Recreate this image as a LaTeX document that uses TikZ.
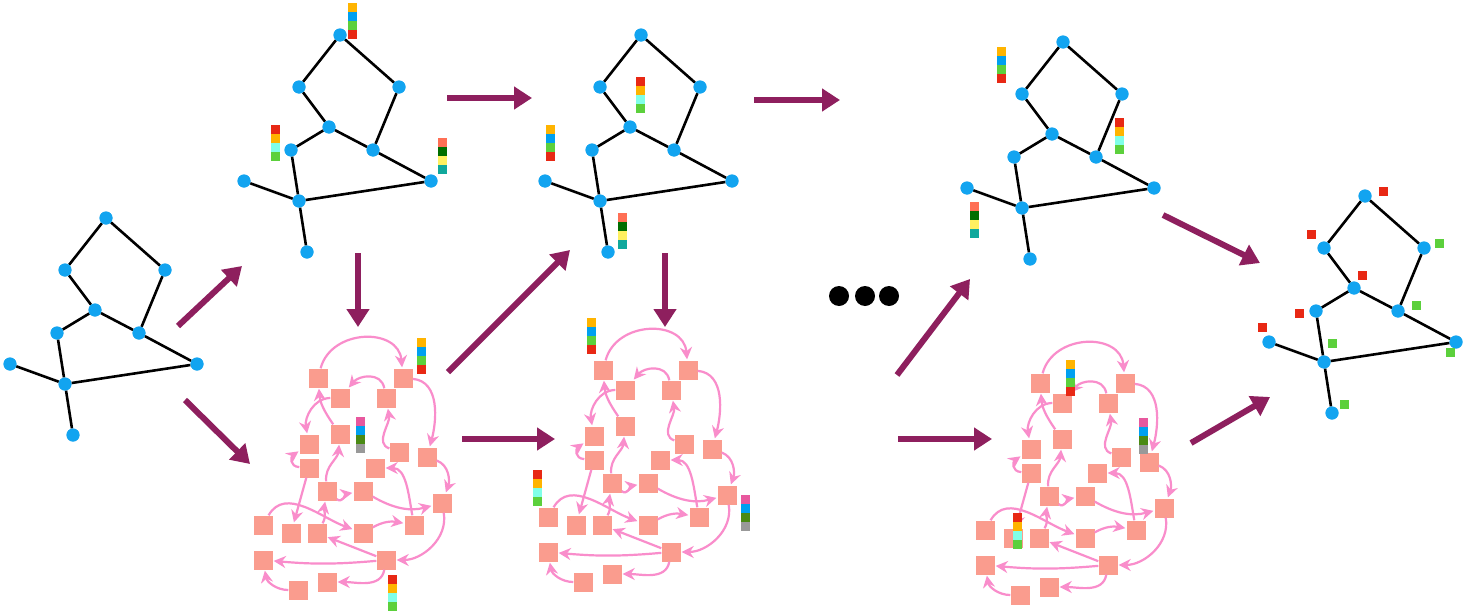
\documentclass[tikz,border=0pt]{standalone}
\usetikzlibrary{arrows.meta}
\definecolor{cOr}{HTML}{FFB400}
\definecolor{cBl}{HTML}{00A0F0}
\definecolor{cGr}{HTML}{5CD03C}
\definecolor{cRd}{HTML}{E82814}
\definecolor{cCy}{HTML}{80FFE8}
\definecolor{cSal}{HTML}{FF6F55}
\definecolor{cDg}{HTML}{006E00}
\definecolor{cYe}{HTML}{FFF060}
\definecolor{cTe}{HTML}{10A89C}
\definecolor{cPk}{HTML}{E8589E}
\definecolor{cOl}{HTML}{4A8A14}
\definecolor{cGy}{HTML}{999999}
\definecolor{vtx}{HTML}{12A4F0}
\definecolor{sq}{HTML}{FA9C8E}
\definecolor{pedge}{HTML}{F98DCB}
\definecolor{purp}{HTML}{8E1F5E}
\tikzset{
 vert/.style={circle,fill=vtx,inner sep=0pt,minimum size=13pt},
 gedge/.style={line width=2.6pt,black},
 sqn/.style={rectangle,fill=sq,inner sep=0pt,minimum size=19pt},
 pe/.style={line width=2.2pt,pedge,-{Stealth[length=12pt,width=12pt]},shorten >=1pt},
 bigarrow/.style={line width=6pt,purp,-{Triangle[length=18pt,width=22pt]}},
 cell/.style={inner sep=0pt,minimum size=9pt,anchor=north},
}
\newcommand{\mygraph}[3]{%
\begin{scope}[shift={(#2,#3)}]
\node[vert] (#1a) at (106,218) {};
\node[vert] (#1b) at (65,270) {};
\node[vert] (#1c) at (165,270) {};
\node[vert] (#1d) at (95,310) {};
\node[vert] (#1e) at (57,333) {};
\node[vert] (#1f) at (139,333) {};
\node[vert] (#1g) at (10,364) {};
\node[vert] (#1h) at (197,364) {};
\node[vert] (#1i) at (65,384) {};
\node[vert] (#1j) at (73,435) {};
\end{scope}
\draw[gedge] (#1a)--(#1b) (#1a)--(#1c) (#1b)--(#1d) (#1c)--(#1f) (#1d)--(#1e) (#1d)--(#1f) (#1f)--(#1h) (#1e)--(#1i) (#1g)--(#1i) (#1i)--(#1h) (#1i)--(#1j);
\node[vert] at (#1a) {};\node[vert] at (#1b) {};\node[vert] at (#1c) {};\node[vert] at (#1d) {};\node[vert] at (#1e) {};
\node[vert] at (#1f) {};\node[vert] at (#1g) {};\node[vert] at (#1h) {};\node[vert] at (#1i) {};\node[vert] at (#1j) {};
}
\newcommand{\pinkgraph}[3]{%
\begin{scope}[shift={(#2,#3)}]
\node[sqn] (#1A) at (318,378) {};
\node[sqn] (#1B) at (403,378) {};
\node[sqn] (#1C) at (340,398) {};
\node[sqn] (#1D) at (386,398) {};
\node[sqn] (#1E) at (340,434) {};
\node[sqn] (#1F) at (309,444) {};
\node[sqn] (#1G) at (399,452) {};
\node[sqn] (#1H) at (427,457) {};
\node[sqn] (#1I) at (309,468) {};
\node[sqn] (#1J) at (375,468) {};
\node[sqn] (#1K) at (327,491) {};
\node[sqn] (#1L) at (363,491) {};
\node[sqn] (#1M) at (442,503) {};
\node[sqn] (#1N) at (263,525) {};
\node[sqn] (#1O) at (291,533) {};
\node[sqn] (#1P) at (317,533) {};
\node[sqn] (#1Q) at (363,533) {};
\node[sqn] (#1R) at (414,525) {};
\node[sqn] (#1S) at (263,560) {};
\node[sqn] (#1T) at (386,560) {};
\node[sqn] (#1U) at (298,590) {};
\node[sqn] (#1V) at (327,582) {};
\end{scope}
\draw[pe] (#1A) to[out=75,in=95,looseness=1.3] (#1B);
\draw[pe] (#1D) to[out=100,in=50,looseness=1.2] (#1C);
\draw[pe] (#1C) to[out=180,in=100] (#1F);
\draw[pe] (#1E) to[out=125,in=-85] (#1A);
\draw[pe] (#1I) to[out=175,in=215,looseness=1.6] (#1F);
\draw[pe] (#1B) to[out=-5,in=75] (#1H);
\draw[pe] (#1G) to[out=160,in=-80] (#1D);
\draw[pe] (#1H) to[out=-20,in=70] (#1M);
\draw[pe] (#1K) to[out=95,in=-95] (#1E);
\draw[pe] (#1I) -- (#1O);
\draw[pe] (#1K) to[out=-40,in=190] (#1L);
\draw[pe] (#1P) to[out=60,in=-100] (#1K);
\draw[pe] (#1N) to[out=60,in=160] (#1Q);
\draw[pe] (#1Q) to[out=30,in=170] (#1R);
\draw[pe] (#1L) to[out=-30,in=195] (#1M);
\draw[pe] (#1R) to[out=100,in=0] (#1J);
\draw[pe] (#1M) to[out=-80,in=0] (#1T);
\draw[pe] (#1T) to[out=185,in=-5] (#1S);
\draw[pe] (#1T) -- (#1P);
\draw[pe] (#1T) to[out=-100,in=0] (#1V);
\draw[pe] (#1U) to[out=180,in=-80] (#1S);
}
\newcommand{\cbar}[6]{%
\node[cell,fill=#3] at (#1,#2) {};
\node[cell,fill=#4] at (#1,#2+9) {};
\node[cell,fill=#5] at (#1,#2+18) {};
\node[cell,fill=#6] at (#1,#2+27) {};
}
\begin{document}
\begin{tikzpicture}[x=1pt,y=-1pt]
\fill[white] (0,0) rectangle (1468,616);
\useasboundingbox (0,0) rectangle (1468,616);
\mygraph{ga}{0}{0}
\mygraph{gb}{234}{-183}
\mygraph{gc}{535}{-183}
\mygraph{gd}{957}{-176}
\mygraph{ge}{1259}{-22}
\pinkgraph{pa}{0}{0}
\pinkgraph{pb}{285}{-8}
\pinkgraph{pc}{722}{5}
% bars
\cbar{352}{3}{cOr}{cBl}{cGr}{cRd}
\cbar{275}{125}{cRd}{cOr}{cCy}{cGr}
\cbar{442}{138}{cSal}{cDg}{cYe}{cTe}
\cbar{640}{77}{cRd}{cOr}{cCy}{cGr}
\cbar{550}{125}{cOr}{cBl}{cGr}{cRd}
\cbar{622}{213}{cSal}{cDg}{cYe}{cTe}
\cbar{1001}{47}{cOr}{cBl}{cGr}{cRd}
\cbar{1119}{118}{cRd}{cOr}{cCy}{cGr}
\cbar{974}{202}{cSal}{cDg}{cYe}{cTe}
\cbar{421}{338}{cOr}{cBl}{cGr}{cRd}
\cbar{360}{417}{cPk}{cBl}{cOl}{cGy}
\cbar{392}{575}{cRd}{cOr}{cCy}{cGr}
\cbar{591}{318}{cOr}{cBl}{cGr}{cRd}
\cbar{537}{470}{cRd}{cOr}{cCy}{cGr}
\cbar{745}{495}{cPk}{cBl}{cOl}{cGy}
\cbar{1070}{360}{cOr}{cBl}{cGr}{cRd}
\cbar{1143}{418}{cPk}{cBl}{cOl}{cGy}
\cbar{1017}{513}{cRd}{cOr}{cCy}{cGr}
% final single squares
\foreach \x/\y/\c in {1383/191/cRd,1311/234/cRd,1439/243/cGr,1362/275/cRd,1299/313/cRd,1416/305/cGr,1262/327/cRd,1332/343/cGr,1450/352/cGr,1344/404/cGr}
  \node[inner sep=0pt,minimum size=9pt,fill=\c] at (\x,\y) {};
% big arrows
\coordinate (s1) at (178,326); \coordinate (e1) at (242,266);
\coordinate (s2) at (185,400); \coordinate (e2) at (250,464);
\coordinate (s3) at (447,98);  \coordinate (e3) at (532,98);
\coordinate (s4) at (358,253); \coordinate (e4) at (358,327);
\coordinate (s5) at (448,372); \coordinate (e5) at (570,250);
\coordinate (s6) at (462,439); \coordinate (e6) at (555,439);
\coordinate (s7) at (665,253); \coordinate (e7) at (665,327);
\coordinate (s8) at (754,100); \coordinate (e8) at (840,100);
\coordinate (s9) at (897,375); \coordinate (e9) at (970,279);
\coordinate (s10) at (898,439); \coordinate (e10) at (992,439);
\coordinate (s11) at (1163,215); \coordinate (e11) at (1260,263);
\coordinate (s12) at (1191,443); \coordinate (e12) at (1270,397);
\foreach \i in {1,...,12} \draw[bigarrow] (s\i) -- (e\i);
% dots
\foreach \x in {839,865,889} \fill[black] (\x,296) circle (10);
\end{tikzpicture}
\end{document}
